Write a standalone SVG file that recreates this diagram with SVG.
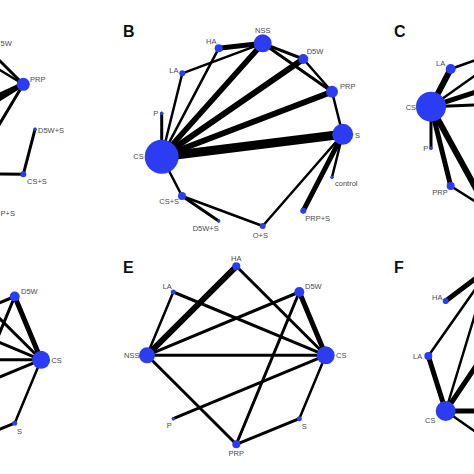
<svg xmlns="http://www.w3.org/2000/svg" width="474" height="474" viewBox="0 0 474 474">
<style>
.e{stroke:#000;stroke-linecap:round;fill:none}
.n{fill:#2b3cf2}
.t{font-family:"Liberation Sans",Arial,sans-serif;font-size:7.5px;fill:#4a4a4a}
.p{font-family:"Liberation Sans",Arial,sans-serif;font-size:16px;font-weight:bold;fill:#111}
</style>
<rect width="474" height="474" fill="#fff"/>
<g id="connectors">
<!-- Panel A -->
<line class="e" x1="-10" y1="51" x2="23.3" y2="84.3" stroke-width="3"/>
<line class="e" x1="-10" y1="64" x2="23.3" y2="84.3" stroke-width="2.5"/>
<line class="e" x1="-10" y1="99.6" x2="23.3" y2="84.3" stroke-width="5"/>
<line class="e" x1="-10" y1="105" x2="23.3" y2="84.3" stroke-width="4"/>
<line class="e" x1="-10" y1="140" x2="23.3" y2="84.3" stroke-width="3"/>
<line class="e" x1="35" y1="129.3" x2="23.3" y2="174.3" stroke-width="3"/>
<line class="e" x1="-10" y1="174" x2="23.3" y2="174.3" stroke-width="3"/>
<!-- Panel B -->
<line class="e" x1="218.7" y1="48.3" x2="262.7" y2="43.3" stroke-width="5"/>
<line class="e" x1="182.3" y1="73.3" x2="262.7" y2="43.3" stroke-width="2.5"/>
<line class="e" x1="218.7" y1="48.3" x2="161.7" y2="156.7" stroke-width="2.5"/>
<line class="e" x1="182.3" y1="73.3" x2="161.7" y2="156.7" stroke-width="2.5"/>
<line class="e" x1="161.7" y1="113.3" x2="161.7" y2="156.7" stroke-width="3"/>
<line class="e" x1="262.7" y1="43.3" x2="161.7" y2="156.7" stroke-width="5.5"/>
<line class="e" x1="303.3" y1="59" x2="161.7" y2="156.7" stroke-width="6"/>
<line class="e" x1="332" y1="91.7" x2="161.7" y2="156.7" stroke-width="6"/>
<line class="e" x1="342.7" y1="134.3" x2="161.7" y2="156.7" stroke-width="9"/>
<line class="e" x1="262.7" y1="43.3" x2="303.3" y2="59" stroke-width="3"/>
<line class="e" x1="262.7" y1="43.3" x2="332" y2="91.7" stroke-width="3"/>
<line class="e" x1="303.3" y1="59" x2="332" y2="91.7" stroke-width="2.5"/>
<line class="e" x1="332" y1="91.7" x2="342.7" y2="134.3" stroke-width="2.5"/>
<line class="e" x1="342.7" y1="134.3" x2="332" y2="177.3" stroke-width="2.5"/>
<line class="e" x1="342.7" y1="134.3" x2="303.3" y2="210.7" stroke-width="5"/>
<line class="e" x1="342.7" y1="134.3" x2="262.7" y2="226" stroke-width="2.5"/>
<line class="e" x1="161.7" y1="156.7" x2="182" y2="196" stroke-width="2.5"/>
<line class="e" x1="182" y1="196" x2="218.7" y2="221" stroke-width="3"/>
<line class="e" x1="182" y1="196" x2="262.7" y2="226" stroke-width="2.5"/>
<!-- Panel C -->
<line class="e" x1="431" y1="106.7" x2="450.7" y2="69" stroke-width="6"/>
<line class="e" x1="450.7" y1="69" x2="480" y2="58.5" stroke-width="2.5"/>
<line class="e" x1="431" y1="106.7" x2="480" y2="72" stroke-width="2.5"/>
<line class="e" x1="431" y1="106.7" x2="480" y2="90.7" stroke-width="5"/>
<line class="e" x1="431" y1="106.7" x2="480" y2="104.7" stroke-width="3"/>
<line class="e" x1="431" y1="106.7" x2="431" y2="148.3" stroke-width="3"/>
<line class="e" x1="431" y1="106.7" x2="450.7" y2="186" stroke-width="5"/>
<line class="e" x1="431" y1="106.7" x2="480" y2="196" stroke-width="6"/>
<line class="e" x1="450.7" y1="186" x2="480" y2="204.5" stroke-width="2.5"/>
<!-- Panel D (same network as E, shifted) -->
<g transform="translate(-284.6,4.5)">
<line class="e" x1="147" y1="355.3" x2="236.3" y2="266.3" stroke-width="6"/>
<line class="e" x1="236.3" y1="266.3" x2="325.7" y2="355.3" stroke-width="3"/>
<line class="e" x1="173.3" y1="292" x2="147" y2="355.3" stroke-width="2.5"/>
<line class="e" x1="173.3" y1="292" x2="325.7" y2="355.3" stroke-width="3"/>
<line class="e" x1="147" y1="355.3" x2="299.3" y2="292" stroke-width="3"/>
<line class="e" x1="147" y1="355.3" x2="325.7" y2="355.3" stroke-width="3"/>
<line class="e" x1="147" y1="355.3" x2="236.3" y2="444.3" stroke-width="3"/>
<line class="e" x1="299.3" y1="292" x2="325.7" y2="355.3" stroke-width="5"/>
<line class="e" x1="299.3" y1="292" x2="236.3" y2="444.3" stroke-width="3"/>
<line class="e" x1="173.3" y1="418.7" x2="325.7" y2="355.3" stroke-width="3"/>
<line class="e" x1="325.7" y1="355.3" x2="299.3" y2="418.7" stroke-width="2.5"/>
<line class="e" x1="299.3" y1="418.7" x2="236.3" y2="444.3" stroke-width="3"/>
</g>
<!-- Panel E -->
<line class="e" x1="147" y1="355.3" x2="236.3" y2="266.3" stroke-width="6"/>
<line class="e" x1="236.3" y1="266.3" x2="325.7" y2="355.3" stroke-width="3"/>
<line class="e" x1="173.3" y1="292" x2="147" y2="355.3" stroke-width="2.5"/>
<line class="e" x1="173.3" y1="292" x2="325.7" y2="355.3" stroke-width="3"/>
<line class="e" x1="147" y1="355.3" x2="299.3" y2="292" stroke-width="3"/>
<line class="e" x1="147" y1="355.3" x2="325.7" y2="355.3" stroke-width="3"/>
<line class="e" x1="147" y1="355.3" x2="236.3" y2="444.3" stroke-width="3"/>
<line class="e" x1="299.3" y1="292" x2="325.7" y2="355.3" stroke-width="5"/>
<line class="e" x1="299.3" y1="292" x2="236.3" y2="444.3" stroke-width="3"/>
<line class="e" x1="173.3" y1="418.7" x2="325.7" y2="355.3" stroke-width="3"/>
<line class="e" x1="325.7" y1="355.3" x2="299.3" y2="418.7" stroke-width="2.5"/>
<line class="e" x1="299.3" y1="418.7" x2="236.3" y2="444.3" stroke-width="3"/>
<!-- Panel F -->
<line class="e" x1="445.7" y1="301" x2="480" y2="275" stroke-width="5"/>
<line class="e" x1="428.3" y1="356" x2="480" y2="282.5" stroke-width="2.5"/>
<line class="e" x1="428.3" y1="356" x2="445.7" y2="411" stroke-width="5"/>
<line class="e" x1="445.7" y1="411" x2="480" y2="298" stroke-width="2.5"/>
<line class="e" x1="445.7" y1="411" x2="480" y2="360" stroke-width="5"/>
<line class="e" x1="445.7" y1="411" x2="480" y2="411" stroke-width="5"/>
<line class="e" x1="445.7" y1="411" x2="480" y2="435" stroke-width="2.5"/>
</g>

<!-- Panel labels -->
<text class="p" x="123" y="37">B</text>
<text class="p" x="394" y="37">C</text>
<text class="p" x="123" y="273">E</text>
<text class="p" x="394" y="273">F</text>

<!-- Panel A nodes -->
<g id="A-D5W"><text class="t" x="0.5" y="46">5W</text></g>
<g id="A-PRP"><circle class="n" cx="23.3" cy="84.3" r="6.5"/><text class="t" x="30" y="82">PRP</text></g>
<g id="A-D5WS"><circle class="n" cx="35" cy="129.3" r="1.7"/><text class="t" x="38" y="133">D5W+S</text></g>
<g id="A-CSS"><circle class="n" cx="23.3" cy="174.3" r="3"/><text class="t" x="27" y="184">CS+S</text></g>
<g id="A-PRPS"><text class="t" x="0.5" y="216">P+S</text></g>

<!-- Panel B nodes -->
<g id="B-NSS"><circle class="n" cx="262.7" cy="43.3" r="9"/><text class="t" x="255" y="32.7">NSS</text></g>
<g id="B-HA"><circle class="n" cx="218.7" cy="48.3" r="4"/><text class="t" x="206" y="44.4">HA</text></g>
<g id="B-D5W"><circle class="n" cx="303.3" cy="59" r="5"/><text class="t" x="306.7" y="54.4">D5W</text></g>
<g id="B-LA"><circle class="n" cx="182.3" cy="73.3" r="3"/><text class="t" x="169.3" y="72.7">LA</text></g>
<g id="B-PRP"><circle class="n" cx="332" cy="91.7" r="6"/><text class="t" x="340" y="89.4">PRP</text></g>
<g id="B-P"><circle class="n" cx="161.7" cy="113.3" r="1.7"/><text class="t" x="153.3" y="116">P</text></g>
<g id="B-S"><circle class="n" cx="342.7" cy="134.3" r="10.5"/><text class="t" x="355" y="137.7">S</text></g>
<g id="B-CS"><circle class="n" cx="161.7" cy="156.7" r="17"/><text class="t" x="133.3" y="159.4">CS</text></g>
<g id="B-control"><circle class="n" cx="332" cy="177.3" r="1.7"/><text class="t" x="335" y="186">control</text></g>
<g id="B-CSS"><circle class="n" cx="182" cy="196" r="4"/><text class="t" x="159.3" y="204.4">CS+S</text></g>
<g id="B-PRPS"><circle class="n" cx="303.3" cy="210.7" r="3"/><text class="t" x="305.3" y="221">PRP+S</text></g>
<g id="B-D5WS"><circle class="n" cx="218.7" cy="221" r="1.7"/><text class="t" x="192.7" y="231">D5W+S</text></g>
<g id="B-OS"><circle class="n" cx="262.7" cy="226" r="3"/><text class="t" x="252.7" y="237.7">O+S</text></g>

<!-- Panel C nodes -->
<g id="C-LA"><circle class="n" cx="450.7" cy="69" r="5"/><text class="t" x="436" y="66">LA</text></g>
<g id="C-CS"><circle class="n" cx="431" cy="106.7" r="15"/><text class="t" x="405.7" y="110">CS</text></g>
<g id="C-P"><circle class="n" cx="431" cy="148.3" r="1.7"/><text class="t" x="423.3" y="151">P</text></g>
<g id="C-PRP"><circle class="n" cx="450.7" cy="186" r="4"/><text class="t" x="432.3" y="195.4">PRP</text></g>

<!-- Panel D nodes -->
<g id="D-D5W"><circle class="n" cx="14.7" cy="296.5" r="5"/><text class="t" x="21" y="293.5">D5W</text></g>
<g id="D-CS"><circle class="n" cx="41.1" cy="359.8" r="9"/><text class="t" x="51.4" y="362.5">CS</text></g>
<g id="D-S"><circle class="n" cx="14.7" cy="423.2" r="2.5"/><text class="t" x="17" y="433.5">S</text></g>

<!-- Panel E nodes -->
<g id="E-HA"><circle class="n" cx="236.3" cy="266.3" r="4"/><text class="t" x="236.3" y="260.7" text-anchor="middle">HA</text></g>
<g id="E-LA"><circle class="n" cx="173.3" cy="292" r="2.5"/><text class="t" x="162.7" y="289">LA</text></g>
<g id="E-D5W"><circle class="n" cx="299.3" cy="292" r="5"/><text class="t" x="305" y="289">D5W</text></g>
<g id="E-NSS"><circle class="n" cx="147" cy="355.3" r="8"/><text class="t" x="124" y="358">NSS</text></g>
<g id="E-CS"><circle class="n" cx="325.7" cy="355.3" r="9"/><text class="t" x="336" y="358">CS</text></g>
<g id="E-P"><circle class="n" cx="173.3" cy="418.7" r="1.7"/><text class="t" x="166.7" y="428">P</text></g>
<g id="E-S"><circle class="n" cx="299.3" cy="418.7" r="2.5"/><text class="t" x="301.7" y="429">S</text></g>
<g id="E-PRP"><circle class="n" cx="236.3" cy="444.3" r="4"/><text class="t" x="236.3" y="456.4" text-anchor="middle">PRP</text></g>

<!-- Panel F nodes -->
<g id="F-HA"><circle class="n" cx="445.7" cy="301" r="3"/><text class="t" x="432" y="300">HA</text></g>
<g id="F-LA"><circle class="n" cx="428.3" cy="356" r="4"/><text class="t" x="413" y="359">LA</text></g>
<g id="F-CS"><circle class="n" cx="445.7" cy="411" r="10"/><text class="t" x="425" y="423">CS</text></g>
</svg>
